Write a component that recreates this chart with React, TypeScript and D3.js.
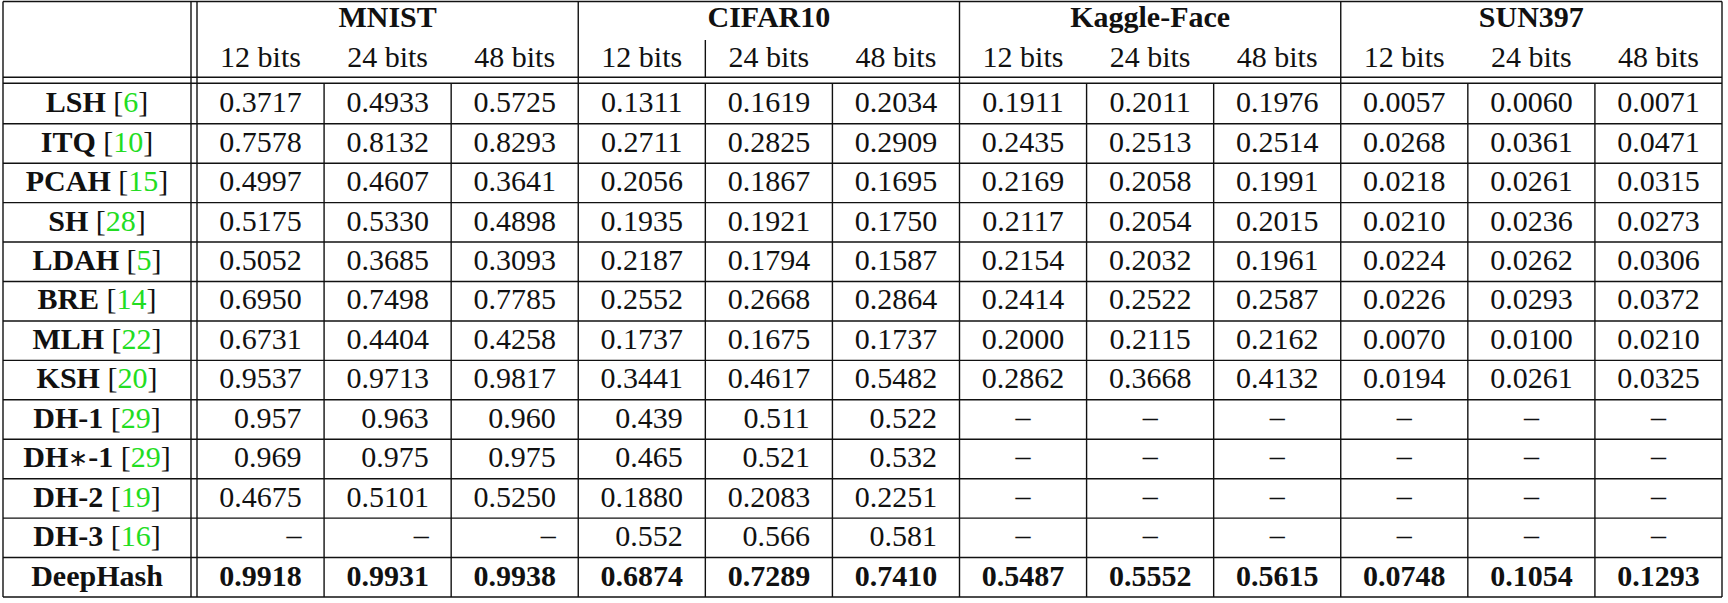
import * as d3 from 'd3';

const DATASETS = ['MNIST', 'CIFAR10', 'Kaggle-Face', 'SUN397'];
const BITS = ['12 bits', '24 bits', '48 bits'];
const METHODS = ['LSH', 'ITQ', 'PCAH', 'SH', 'LDAH', 'BRE', 'MLH', 'KSH', 'DH-1', 'DH\u2217-1', 'DH-2', 'DH-3', 'DeepHash'];
const REFS = ['6', '10', '15', '28', '5', '14', '22', '20', '29', '29', '19', '16', null];

// null = "–" (not reported)
const MNIST = [
  ['0.3717', '0.4933', '0.5725'],
  ['0.7578', '0.8132', '0.8293'],
  ['0.4997', '0.4607', '0.3641'],
  ['0.5175', '0.5330', '0.4898'],
  ['0.5052', '0.3685', '0.3093'],
  ['0.6950', '0.7498', '0.7785'],
  ['0.6731', '0.4404', '0.4258'],
  ['0.9537', '0.9713', '0.9817'],
  ['0.957', '0.963', '0.960'],
  ['0.969', '0.975', '0.975'],
  ['0.4675', '0.5101', '0.5250'],
  [null, null, null],
  ['0.9918', '0.9931', '0.9938'],
];
const CIFAR10 = [
  ['0.1311', '0.1619', '0.2034'],
  ['0.2711', '0.2825', '0.2909'],
  ['0.2056', '0.1867', '0.1695'],
  ['0.1935', '0.1921', '0.1750'],
  ['0.2187', '0.1794', '0.1587'],
  ['0.2552', '0.2668', '0.2864'],
  ['0.1737', '0.1675', '0.1737'],
  ['0.3441', '0.4617', '0.5482'],
  ['0.439', '0.511', '0.522'],
  ['0.465', '0.521', '0.532'],
  ['0.1880', '0.2083', '0.2251'],
  ['0.552', '0.566', '0.581'],
  ['0.6874', '0.7289', '0.7410'],
];
const KAGGLE = [
  ['0.1911', '0.2011', '0.1976'],
  ['0.2435', '0.2513', '0.2514'],
  ['0.2169', '0.2058', '0.1991'],
  ['0.2117', '0.2054', '0.2015'],
  ['0.2154', '0.2032', '0.1961'],
  ['0.2414', '0.2522', '0.2587'],
  ['0.2000', '0.2115', '0.2162'],
  ['0.2862', '0.3668', '0.4132'],
  [null, null, null],
  [null, null, null],
  [null, null, null],
  [null, null, null],
  ['0.5487', '0.5552', '0.5615'],
];
const SUN397 = [
  ['0.0057', '0.0060', '0.0071'],
  ['0.0268', '0.0361', '0.0471'],
  ['0.0218', '0.0261', '0.0315'],
  ['0.0210', '0.0236', '0.0273'],
  ['0.0224', '0.0262', '0.0306'],
  ['0.0226', '0.0293', '0.0372'],
  ['0.0070', '0.0100', '0.0210'],
  ['0.0194', '0.0261', '0.0325'],
  [null, null, null],
  [null, null, null],
  [null, null, null],
  [null, null, null],
  ['0.0748', '0.1054', '0.1293'],
];
const TABLES = [MNIST, CIFAR10, KAGGLE, SUN397];

const W = 1728, H = 603;
const FONT = "'Liberation Serif'";
const FS = 30;
const INK = '#111';
const GREEN = '#22dd22';

export default function App() {
  // ── Geometry ─────────────────────────────────────────────
  const left = 3, right = 1722, top = 1.5, bottom = 597;
  const labR1 = 191, labR2 = 197;
  const hd1 = 77.3, hd2 = 83.3;
  const nCols = DATASETS.length * BITS.length;

  const x = d3.scaleLinear().domain([0, nCols]).range([labR2, right]);
  const y = d3.scaleBand<number>().domain(d3.range(METHODS.length)).range([hd2 + 1, bottom]);
  const rowH = y.bandwidth();
  const labCx = (left + labR1) / 2;
  const halfNum = 41; // half width of a 4-digit value

  const lines: JSX.Element[] = [];
  const hl = (yy: number, k: string) =>
    lines.push(<line key={k} x1={left} x2={right} y1={yy} y2={yy} stroke={INK} strokeWidth={1.4} />);
  const vl = (xx: number, y1: number, y2: number, k: string) =>
    lines.push(<line key={k} x1={xx} x2={xx} y1={y1} y2={y2} stroke={INK} strokeWidth={1.4} />);

  hl(top, 'ht'); hl(hd1, 'h1'); hl(hd2, 'h2'); hl(bottom, 'hb');
  METHODS.forEach((_, i) => { if (i > 0) hl(y(i)!, `hr${i}`); });

  vl(left, top, bottom, 'vl'); vl(right, top, bottom, 'vr');
  vl(labR1, top, bottom, 'vd1'); vl(labR2, top, bottom, 'vd2');
  d3.range(1, nCols).forEach(c => {
    if (c % 3 === 0) vl(x(c), top, bottom, `vc${c}`);
    else vl(x(c), hd2, bottom, `vc${c}`);
  });
  // stray partial rule in the CIFAR10 header
  vl(x(4), 40, hd1, 'vp');

  const cells: JSX.Element[] = [];
  TABLES.forEach((tab, g) => {
    tab.forEach((row, r) => {
      row.forEach((v, b) => {
        const c = g * 3 + b;
        const cx = (x(c) + x(c + 1)) / 2;
        const by = y(r)! + rowH * 0.71;
        const bold = r === METHODS.length - 1;
        let anchor: 'middle' | 'end' = 'middle';
        let tx = cx;
        if (v == null) {
          if (g === 0) { anchor = 'end'; tx = cx + halfNum; }
        } else if (v.length < 6) {
          anchor = 'end'; tx = cx + halfNum;
        }
        cells.push(
          <text key={`c${g}-${r}-${b}`} x={tx} y={v == null ? by - 1 : by} textAnchor={anchor}
            fontWeight={bold ? 'bold' : 'normal'}>
            {v ?? '\u2013'}
          </text>
        );
      });
    });
  });

  return (
    <svg width={W} height={H} viewBox={`0 0 ${W} ${H}`}
      style={{ position: 'absolute', left: 0, top: 0, background: '#fff', fontFamily: FONT, fontSize: FS }}
      fill={INK}>
      <rect width={W} height={H} fill="#fff" />
      {lines}

      {DATASETS.map((d, g) => (
        <text key={d} x={(x(g * 3) + x(g * 3 + 3)) / 2} y={27} textAnchor="middle" fontWeight="bold">{d}</text>
      ))}
      {d3.range(nCols).map(c => (
        <text key={`b${c}`} x={(x(c) + x(c + 1)) / 2} y={67} textAnchor="middle">{BITS[c % 3]}</text>
      ))}

      {METHODS.map((m, i) => {
        const parts = m.split('\u2217');
        const by = y(i)! + rowH * 0.71;
        return (
          <text key={m} x={labCx} y={by} textAnchor="middle">
            <tspan fontWeight="bold">{parts[0]}</tspan>
            {parts.length > 1 && <tspan style={{ fontSize: 24 }} dy={-1}>{'\u2217'}</tspan>}
            {parts.length > 1 && <tspan fontWeight="bold" dy={1}>{parts[1]}</tspan>}
            {REFS[i] != null && <tspan>{' ['}</tspan>}
            {REFS[i] != null && <tspan fill={GREEN}>{REFS[i]}</tspan>}
            {REFS[i] != null && <tspan>]</tspan>}
          </text>
        );
      })}

      {cells}
    </svg>
  );
}
